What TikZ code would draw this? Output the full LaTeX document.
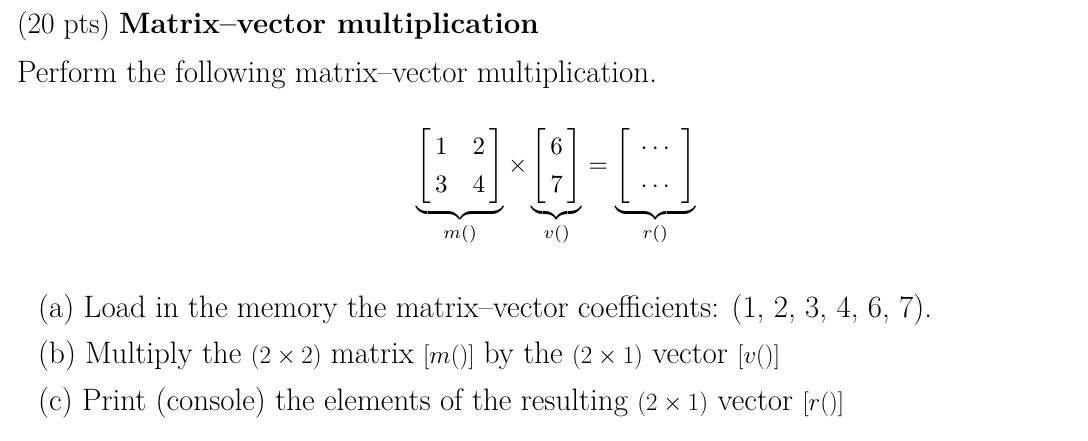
\documentclass[tikz,border=0pt]{standalone}
\usepackage{amsmath}
\tikzset{txt/.style={anchor=base west,inner sep=0pt,font=\fontsize{31}{36}\selectfont}}
\begin{document}
\begin{tikzpicture}[x=1pt,y=-1pt]
\useasboundingbox (0,0) rectangle (1088,440);
\node[txt,font=\fontsize{29.5}{34}\selectfont] (title) at (17,33) {(20 pts) \textbf{Matrix--vector multiplication}};
\node[txt] (intro) at (17,82) {Perform the following matrix--vector multiplication.};
\node[anchor=north,inner sep=0pt,scale=2.5] (eq) at (556,128)
 {\renewcommand{\arraystretch}{1.25}$\underbrace{\left[\,\begin{matrix}1&2\\3&4\end{matrix}\,\right]}_{m()}\times
   \underbrace{\left[\,\begin{matrix}6\\7\end{matrix}\,\right]}_{v()}=
   \underbrace{\left[\,\begin{matrix}\;\cdots\;\\\;\cdots\;\end{matrix}\,\right]}_{r()}$};
\node[txt] (a) at (38,317) {(a) Load in the memory the matrix--vector coefficients: (1, 2, 3, 4, 6, 7).};
\node[txt] (b) at (38,363) {(b) Multiply the $(2\times 2)$ matrix $[m()]$ by the $(2\times 1)$ vector $[v()]$};
\node[txt] (c) at (38,410) {(c) Print (console) the elements of the resulting $(2\times 1)$ vector $[r()]$};
\end{tikzpicture}
\end{document}
